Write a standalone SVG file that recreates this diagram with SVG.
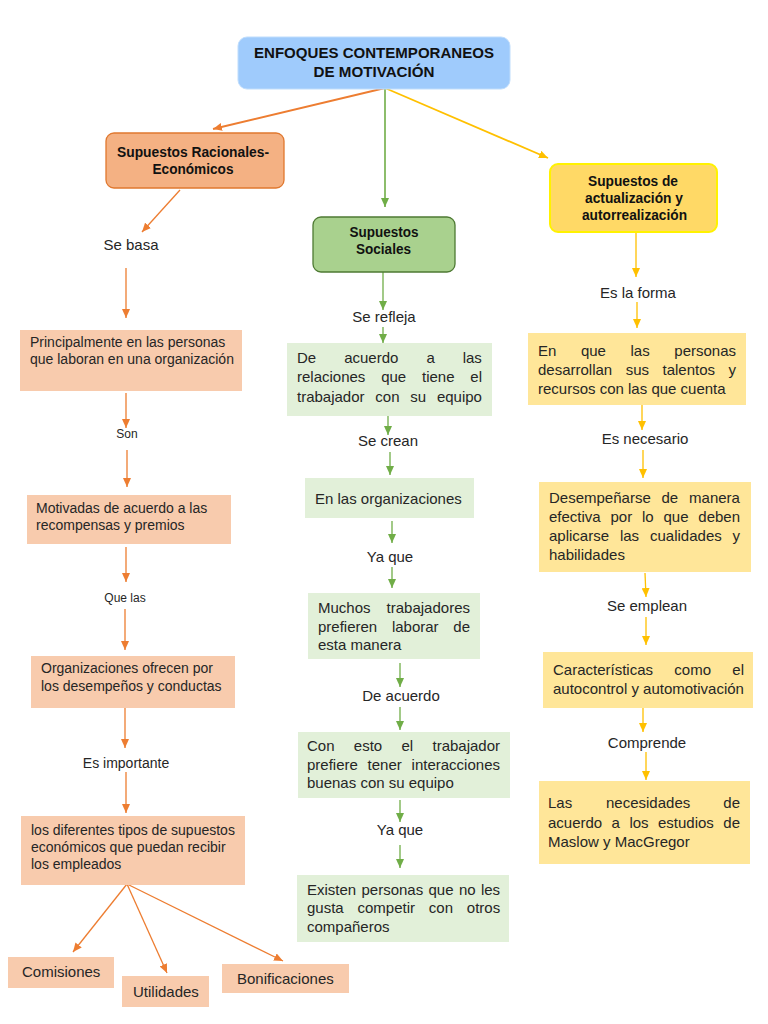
<svg xmlns="http://www.w3.org/2000/svg" width="768" height="1024" viewBox="0 0 768 1024">
<style>
text{font-family:"Liberation Sans",Arial,sans-serif;fill:#262626}
.h{font-family:"Liberation Sans Narrow","Liberation Sans",Arial,sans-serif;font-weight:bold;fill:#111;text-anchor:middle}
.t{font-size:15px}
.l{font-size:14px}
.lab{font-size:15px;text-anchor:middle}
.sm{font-size:12px;text-anchor:middle}
.o{stroke:#ED7D31;stroke-width:1.3;fill:none;marker-end:url(#ao)}
.g{stroke:#70AD47;stroke-width:1.3;fill:none;marker-end:url(#ag)}
.y{stroke:#FFC000;stroke-width:1.3;fill:none;marker-end:url(#ay)}
.bo{fill:#F8CBAD}
.bg{fill:#E2F0D9}
.by{fill:#FFE699}
</style>
<defs>
<marker id="ao" markerUnits="userSpaceOnUse" markerWidth="9" markerHeight="8" refX="9" refY="4" orient="auto"><path d="M0,0 L9,4 L0,8 z" fill="#ED7D31"/></marker>
<marker id="ag" markerUnits="userSpaceOnUse" markerWidth="9" markerHeight="8" refX="9" refY="4" orient="auto"><path d="M0,0 L9,4 L0,8 z" fill="#70AD47"/></marker>
<marker id="ay" markerUnits="userSpaceOnUse" markerWidth="9" markerHeight="8" refX="9" refY="4" orient="auto"><path d="M0,0 L9,4 L0,8 z" fill="#FFC000"/></marker>
</defs>
<rect width="768" height="1024" fill="#fff"/>

<g id="connectors">
<line class="o" style="stroke-width:1.8" x1="385" y1="88" x2="213" y2="129"/>
<line class="o" x1="180" y1="190" x2="142" y2="232"/>
<line class="o" x1="126" y1="268" x2="126" y2="318"/>
<line class="o" x1="126" y1="393" x2="126" y2="428"/>
<line class="o" x1="127" y1="450" x2="127" y2="487"/>
<line class="o" x1="126" y1="547" x2="126" y2="582"/>
<line class="o" x1="125" y1="609" x2="125" y2="650"/>
<line class="o" x1="125" y1="707" x2="125" y2="748"/>
<line class="o" x1="126" y1="772" x2="126" y2="813"/>
<line class="o" x1="127" y1="884" x2="73" y2="952"/>
<line class="o" x1="127" y1="884" x2="167" y2="973"/>
<line class="o" x1="127" y1="884" x2="283" y2="961"/>
<line class="g" style="stroke-width:1.6" x1="385" y1="88" x2="385" y2="207"/>
<line class="g" x1="383" y1="272" x2="383" y2="310"/>
<line class="g" x1="383" y1="327" x2="383" y2="343"/>
<line class="g" x1="388" y1="412" x2="388" y2="435"/>
<line class="g" x1="390" y1="452" x2="390" y2="475"/>
<line class="g" x1="392" y1="521" x2="392" y2="543"/>
<line class="g" x1="392" y1="567" x2="392" y2="588"/>
<line class="g" x1="400" y1="663" x2="400" y2="687"/>
<line class="g" x1="400" y1="707" x2="400" y2="730"/>
<line class="g" x1="400" y1="800" x2="400" y2="822"/>
<line class="g" x1="400" y1="845" x2="400" y2="868"/>
<line class="y" style="stroke-width:1.8" x1="385" y1="88" x2="548" y2="158"/>
<line class="y" x1="636" y1="232" x2="636" y2="277"/>
<line class="y" x1="637" y1="302" x2="637" y2="328"/>
<line class="y" x1="642" y1="403" x2="642" y2="430"/>
<line class="y" x1="643" y1="450" x2="643" y2="478"/>
<line class="y" x1="645" y1="573" x2="646" y2="597"/>
<line class="y" x1="646" y1="617" x2="646" y2="645"/>
<line class="y" x1="643" y1="703" x2="643" y2="732"/>
<line class="y" x1="646" y1="752" x2="646" y2="780"/>
</g>

<g id="title">
<rect x="238" y="37" width="272" height="52" rx="9" fill="#9FCBFC" stroke="#BFDDFC" stroke-width="1"/>
<text class="h" x="374" y="58" font-size="15" textLength="240" lengthAdjust="spacingAndGlyphs">ENFOQUES CONTEMPORANEOS</text>
<text class="h" x="374" y="77" font-size="15" textLength="121" lengthAdjust="spacingAndGlyphs">DE MOTIVACIÓN</text>
</g>

<g id="racionales">
<rect x="106" y="133" width="178" height="55" rx="8" fill="#F4B183" stroke="#E0782F" stroke-width="1.3"/>
<text class="h" x="193" y="157" font-size="14" textLength="152" lengthAdjust="spacingAndGlyphs">Supuestos Racionales-</text>
<text class="h" x="193" y="174" font-size="14" textLength="81" lengthAdjust="spacingAndGlyphs">Económicos</text>
</g>

<g id="sociales">
<rect x="313" y="217" width="142" height="55" rx="8" fill="#A9D18E" stroke="#4E7A33" stroke-width="1.3"/>
<text class="h" x="384" y="237" font-size="14" textLength="69" lengthAdjust="spacingAndGlyphs">Supuestos</text>
<text class="h" x="383.5" y="254" font-size="14" textLength="55" lengthAdjust="spacingAndGlyphs">Sociales</text>
</g>

<g id="actualizacion">
<rect x="550" y="164" width="167" height="68" rx="8" fill="#FFD966" stroke="#FFF200" stroke-width="2"/>
<text class="h" x="633" y="186" font-size="14" textLength="90" lengthAdjust="spacingAndGlyphs">Supuestos de</text>
<text class="h" x="634" y="203" font-size="14" textLength="98" lengthAdjust="spacingAndGlyphs">actualización y</text>
<text class="h" x="634.5" y="220" font-size="14" textLength="105" lengthAdjust="spacingAndGlyphs">autorrealización</text>
</g>

<g id="labels">
<text id="lbl-se-basa" class="lab" x="131" y="250">Se basa</text>
<text id="lbl-son" class="sm" x="127" y="438">Son</text>
<text id="lbl-que-las" class="sm" x="125" y="602">Que las</text>
<text id="lbl-es-importante" class="lab" x="126" y="768" style="font-size:14px">Es importante</text>
<text id="lbl-se-refleja" class="lab" x="384" y="322">Se refleja</text>
<text id="lbl-se-crean" class="lab" x="388" y="446">Se crean</text>
<text id="lbl-ya-que-1" class="lab" x="390" y="562">Ya que</text>
<text id="lbl-de-acuerdo" class="lab" x="401" y="701">De acuerdo</text>
<text id="lbl-ya-que-2" class="lab" x="400" y="835">Ya que</text>
<text id="lbl-es-la-forma" class="lab" x="638" y="298">Es la forma</text>
<text id="lbl-es-necesario" class="lab" x="645" y="444">Es necesario</text>
<text id="lbl-se-emplean" class="lab" x="647" y="611">Se emplean</text>
<text id="lbl-comprende" class="lab" x="647" y="748">Comprende</text>
</g>

<g id="l1"><rect class="bo" x="20" y="330" width="222" height="61"/>
<text class="l" x="30" y="347">Principalmente en las personas</text>
<text class="l" x="30" y="364">que laboran en una organización</text></g>
<g id="l2"><rect class="bo" x="27" y="495" width="204" height="49"/>
<text class="l" x="36" y="513">Motivadas de acuerdo a las</text>
<text class="l" x="36" y="530">recompensas y premios</text></g>
<g id="l3"><rect class="bo" x="31" y="656" width="204" height="52"/>
<text class="l" x="41" y="673">Organizaciones ofrecen por</text>
<text class="l" x="41" y="691">los desempeños y conductas</text></g>
<g id="l4"><rect class="bo" x="21" y="816" width="224" height="69"/>
<text class="l" x="31" y="835">los diferentes tipos de supuestos</text>
<text class="l" x="31" y="852">económicos que puedan recibir</text>
<text class="l" x="31" y="869">los empleados</text></g>
<g id="comisiones"><rect class="bo" x="8" y="957" width="106" height="31"/>
<text class="t" x="22" y="977">Comisiones</text></g>
<g id="utilidades"><rect class="bo" x="122" y="976" width="87" height="31"/>
<text class="t" x="133" y="997">Utilidades</text></g>
<g id="bonificaciones"><rect class="bo" x="222" y="964" width="127" height="29"/>
<text class="t" x="237" y="984">Bonificaciones</text></g>

<g id="m1"><rect class="bg" x="287" y="343" width="205" height="73"/>
<text class="t" y="363"><tspan x="297">De</tspan><tspan x="344.2">acuerdo</tspan><tspan x="426.4">a</tspan><tspan x="462.7">las</tspan></text>
<text class="t" y="382"><tspan x="297">relaciones</tspan><tspan x="381.2">que</tspan><tspan x="422">tiene</tspan><tspan x="470.3">el</tspan></text>
<text class="t" y="402"><tspan x="297">trabajador</tspan><tspan x="375.3">con</tspan><tspan x="410.3">su</tspan><tspan x="436.9">equipo</tspan></text></g>
<g id="m2"><rect class="bg" x="305" y="478" width="169" height="40"/>
<text class="t" x="315" y="504">En las organizaciones</text></g>
<g id="m3"><rect class="bg" x="308" y="593" width="172" height="66"/>
<text class="t" y="613"><tspan x="318">Muchos</tspan><tspan x="386.6">trabajadores</tspan></text>
<text class="t" y="632"><tspan x="318">prefieren</tspan><tspan x="391.9">laborar</tspan><tspan x="453.3">de</tspan></text>
<text class="t" x="318" y="650">esta manera</text></g>
<g id="m4"><rect class="bg" x="298" y="732" width="212" height="66"/>
<text class="t" y="751"><tspan x="307">Con</tspan><tspan x="353.8">esto</tspan><tspan x="401.5">el</tspan><tspan x="432.5">trabajador</tspan></text>
<text class="t" y="770"><tspan x="307">prefiere</tspan><tspan x="367.6">tener</tspan><tspan x="411.6">interacciones</tspan></text>
<text class="t" x="307" y="788">buenas con su equipo</text></g>
<g id="m5"><rect class="bg" x="297" y="875" width="212" height="67"/>
<text class="t" x="307" y="895" word-spacing="1.15">Existen personas que no les</text>
<text class="t" y="913"><tspan x="307">gusta</tspan><tspan x="357.5">competir</tspan><tspan x="428.8">con</tspan><tspan x="466.8">otros</tspan></text>
<text class="t" x="307" y="932">compañeros</text></g>

<g id="r1"><rect class="by" x="528" y="333" width="218" height="72"/>
<text class="t" y="356"><tspan x="538">En</tspan><tspan x="580.9">que</tspan><tspan x="630.5">las</tspan><tspan x="674.3">personas</tspan></text>
<text class="t" y="375"><tspan x="538">desarrollan</tspan><tspan x="625.7">sus</tspan><tspan x="662.5">talentos</tspan><tspan x="728.5">y</tspan></text>
<text class="t" x="538" y="394">recursos con las que cuenta</text></g>
<g id="r2"><rect class="by" x="539" y="482" width="212" height="90"/>
<text class="t" y="503"><tspan x="549">Desempeñarse</tspan><tspan x="661.5">de</tspan><tspan x="689.1">manera</tspan></text>
<text class="t" y="522"><tspan x="549">efectiva</tspan><tspan x="610.5">por</tspan><tspan x="642">lo</tspan><tspan x="663.5">que</tspan><tspan x="698.3">deben</tspan></text>
<text class="t" y="541"><tspan x="549">aplicarse</tspan><tspan x="619.9">las</tspan><tspan x="650">cualidades</tspan><tspan x="732.5">y</tspan></text>
<text class="t" x="549" y="560">habilidades</text></g>
<g id="r3"><rect class="by" x="543" y="652" width="210" height="56"/>
<text class="t" y="675"><tspan x="553">Características</tspan><tspan x="674.3">como</tspan><tspan x="732.3">el</tspan></text>
<text class="t" x="553" y="694">autocontrol y automotivación</text></g>
<g id="r4"><rect class="by" x="539" y="781" width="211" height="83"/>
<text class="t" y="808"><tspan x="548">Las</tspan><tspan x="606">necesidades</tspan><tspan x="723.3">de</tspan></text>
<text class="t" y="828"><tspan x="548">acuerdo</tspan><tspan x="611.6">a</tspan><tspan x="629.4">los</tspan><tspan x="658">estudios</tspan><tspan x="723.3">de</tspan></text>
<text class="t" x="548" y="847">Maslow y MacGregor</text></g>
</svg>
